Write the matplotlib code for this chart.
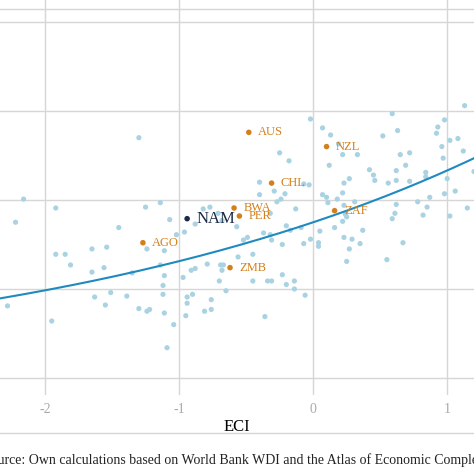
import matplotlib
matplotlib.use("Agg")
import matplotlib.pyplot as plt
import numpy as np

eci = [1.13,-0.02,0.59,0.98,0.07,0.13,0.52,0.93,0.92,0.63,1.02,1.08,1.12,0.96,0.97,-1.30,-0.25,-0.18,0.19,0.33,
0.22,0.12,0.42,0.45,0.46,0.65,0.72,0.69,0.62,0.84,0.84,0.72,0.62,0.56,1.00,1.06,0.98,0.87,0.78,0.85,
0.82,1.15,1.02,1.20,-0.40,-0.40,-0.29,-0.21,-0.24,-0.27,-0.07,-0.03,0.07,0.10,0.11,0.18,0.23,0.27,0.22,0.31,
0.23,0.24,0.22,0.25,-0.13,-0.32,-2.16,-2.22,-1.92,-1.25,-1.14,-0.82,-0.77,-0.71,-1.45,-1.07,-1.02,-0.96,-0.88,-0.68,
-0.57,-0.52,-0.49,-0.37,-0.32,-0.31,-0.20,-0.17,-0.23,-0.09,-0.07,-0.02,0.04,0.04,0.05,0.16,0.23,0.29,0.35,0.37,
0.27,0.25,0.55,0.67,0.59,0.61,0.62,-1.92,-1.85,-1.81,-1.65,-1.54,-1.24,-1.11,-1.14,-1.56,-1.65,-1.35,-1.11,-1.12,
-0.97,-0.91,-0.88,-0.79,-0.69,-0.67,-0.68,-0.56,-0.45,-0.70,-0.65,-0.45,-0.34,-0.31,-0.23,-0.20,-0.14,-0.14,-0.06,
-1.63,-1.51,-1.39,-1.55,-1.30,-1.24,-1.22,-1.12,-1.11,-0.94,-0.90,-0.94,-0.76,-0.81,-0.76,-0.95,-1.04,-1.95,-2.28,-1.09,-0.36]
gdp = [3.06,2.91,2.97,2.90,2.81,2.73,2.72,2.82,2.75,2.78,2.67,2.69,2.55,2.60,2.47,2.70,2.53,2.44,2.63,2.51,
2.51,2.39,2.34,2.28,2.22,2.51,2.53,2.39,2.33,2.31,2.26,2.21,2.22,2.19,2.24,2.10,2.07,2.03,1.98,1.92,
1.83,1.91,1.82,2.32,2.20,2.06,2.10,2.07,2.01,1.98,2.18,2.17,2.06,2.03,1.97,2.01,2.19,2.24,2.08,1.98,
1.94,1.84,1.76,1.81,1.90,1.85,2.01,1.75,1.91,1.92,1.97,1.90,1.92,1.85,1.69,1.78,1.61,1.64,1.73,1.77,
1.70,1.55,1.58,1.63,1.61,1.55,1.71,1.66,1.50,1.69,1.51,1.56,1.52,1.48,1.65,1.69,1.58,1.56,1.51,1.66,
1.45,1.31,1.33,1.52,1.79,1.85,1.95,1.39,1.39,1.27,1.45,1.47,1.45,1.43,1.27,1.24,1.19,1.18,1.15,1.04,
1.13,1.21,1.23,1.28,1.27,1.27,1.21,1.36,1.39,1.09,0.98,1.09,1.09,1.09,1.16,1.05,1.09,1.00,0.93,
0.91,0.96,0.92,0.82,0.78,0.75,0.77,0.94,0.73,0.91,0.94,0.84,0.88,0.75,0.77,0.70,0.60,0.64,0.81,0.34,0.69]

hl_names = ["AUS","NZL","CHL","BWA","PER","AGO","ZAF","ZMB"]
hl_eci = [-0.48,0.10,-0.31,-0.59,-0.55,-1.27,0.16,-0.62]
hl_gdp = [2.76,2.60,2.19,1.91,1.82,1.52,1.88,1.24]
nam_eci, nam_gdp = -0.94, 1.79
xticks = [-2,-1,0,1]

plt.rcParams['font.family'] = ['Liberation Serif', 'DejaVu Serif']
fig = plt.figure(figsize=(4.74,4.74), dpi=100)
H = 474
top, bot = 0, 395
ax = fig.add_axes([0, 1-bot/H, 1, (bot-top)/H])
ax.set_xlim(-2.336, 1.2)
ax.set_ylim(-0.191, 4.247)
for s in ax.spines.values():
    s.set_visible(False)
ax.set_xticks(xticks)
ax.set_xticklabels([str(t) for t in xticks])
ax.set_yticks([0,1,2,3,4])
ax.set_yticklabels([])
ax.tick_params(length=0, colors='#aaaaaa', labelsize=10)
ax.tick_params(axis='x', pad=6)
ax.grid(True, color='#d6d6d6', lw=1)
ax.set_axisbelow(True)

all_x = np.array(eci + hl_eci + [nam_eci]); all_y = np.array(gdp + hl_gdp + [nam_gdp])
b, a = np.polyfit(all_x, np.log(all_y), 1)
xs = np.linspace(-2.4, 1.3, 200)
ax.plot(xs, np.exp(a + b*xs), color='#1f8ac0', lw=1.5, zorder=3)

ax.scatter(eci, gdp, s=14, color='#a9d2e2', edgecolors='none', zorder=2)
ax.scatter(hl_eci, hl_gdp, s=16, color='#d4801a', edgecolors='none', zorder=4)
for n, x, y in zip(hl_names, hl_eci, hl_gdp):
    ax.text(x+0.07, y, n, color='#d4801a', fontsize=9, va='center', zorder=4)
ax.scatter([nam_eci], [nam_gdp], s=16, color='#1b2a48', edgecolors='none', zorder=4)
ax.text(nam_eci+0.07, nam_gdp, "NAM", color='#1b2a48', fontsize=12, va='center', zorder=4)
ax.set_xlabel("ECI", fontsize=12, labelpad=2)

fig.add_artist(plt.Line2D([0,1],[1-9/H,1-9/H], color='#d6d6d6', lw=1))
fig.add_artist(plt.Line2D([0,1],[1-433/H,1-433/H], color='#d6d6d6', lw=1))
fig.text(-0.036, 1-460/H, "Source: Own calculations based on World Bank WDI and the Atlas of Economic Complexity",
         fontsize=10, va='center', color='#222222')
fig.savefig("out.png", dpi=100)
